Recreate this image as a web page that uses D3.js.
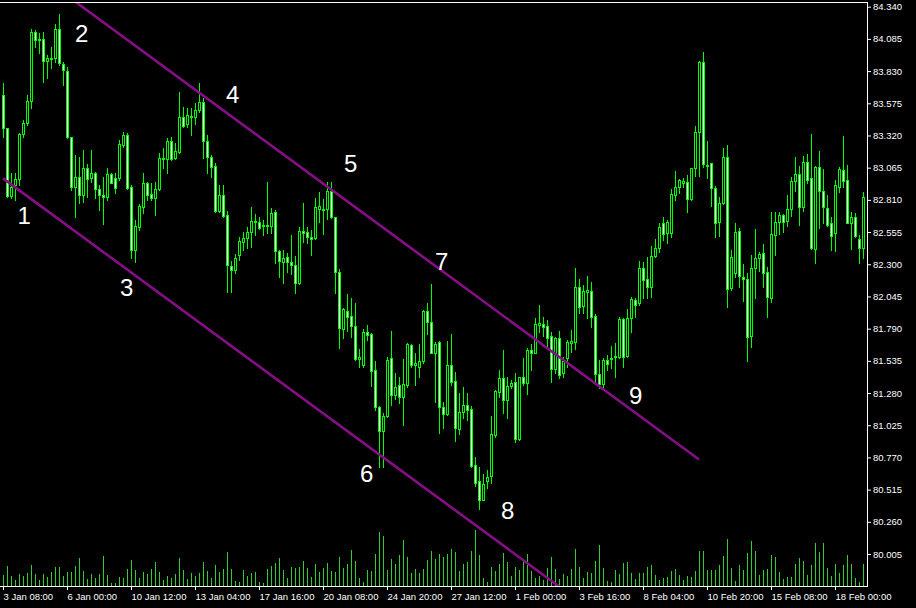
<!DOCTYPE html>
<html><head><meta charset="utf-8">
<script src="https://cdn.jsdelivr.net/npm/d3@7"></script>
<style>html,body{margin:0;padding:0;background:#000;overflow:hidden}</style>
</head><body><svg id="c" width="916" height="608"></svg>
<script>
// ---- data (USDJPY-like 4H candles) ----
const timeLabels = ["3 Jan 08:00","6 Jan 00:00","10 Jan 12:00","13 Jan 04:00","17 Jan 16:00","20 Jan 08:00","24 Jan 20:00","27 Jan 12:00","1 Feb 00:00","3 Feb 16:00","8 Feb 04:00","10 Feb 20:00","15 Feb 08:00","18 Feb 00:00"];
const timeLabelIndex = [0,16,32,48,64,80,96,112,128,144,160,176,192,208];
const priceTicks = [84.340,84.085,83.830,83.575,83.320,83.065,82.810,82.555,82.300,82.045,81.790,81.535,81.280,81.025,80.770,80.515,80.260,80.005];

const opens = [83.641,83.377,82.841,82.928,82.973,83.329,83.416,83.593,84.137,84.076,84.081,83.913,83.931,83.931,84.161,83.886,83.831,83.305,82.909,82.989,82.849,83.060,82.981,83.020,82.893,82.849,82.835,83.015,82.981,82.981,83.245,83.324,82.909,82.413,82.598,82.756,82.941,82.857,82.822,82.893,83.139,83.131,83.276,83.139,83.192,83.464,83.411,83.477,83.464,83.522,83.588,83.276,83.147,83.081,82.725,82.849,82.690,
82.287,82.255,82.374,82.479,82.511,82.553,82.643,82.638,82.603,82.609,82.603,82.712,82.408,82.321,82.355,82.321,82.295,82.149,82.564,82.559,82.519,82.506,82.735,82.741,82.735,82.881,82.672,82.242,81.785,81.933,81.893,81.814,81.550,81.503,81.761,81.746,81.463,81.167,80.983,81.099,81.555,81.265,81.344,
81.251,81.344,81.660,81.502,81.489,81.536,81.930,81.840,81.594,81.687,81.172,81.114,81.502,81.375,80.995,81.133,81.185,81.154,80.710,80.586,80.433,80.586,80.623,80.948,81.291,81.397,81.225,81.339,81.365,80.913,81.404,81.357,81.621,81.600,81.819,81.824,81.812,81.732,81.468,
81.713,81.436,81.555,81.679,81.687,82.117,81.972,82.083,82.088,81.890,81.431,81.352,81.542,81.547,81.563,81.568,81.864,81.573,81.872,82.017,81.990,82.268,82.180,82.117,82.368,82.426,82.624,82.550,82.550,82.848,82.909,82.946,82.954,82.814,83.060,83.345,83.899,83.086,83.099,82.901,
82.637,82.788,83.147,82.109,82.228,82.566,82.197,82.181,81.732,82.268,82.347,82.387,82.241,82.030,82.532,82.632,82.688,82.645,82.735,82.959,83.015,82.756,83.107,82.981,82.418,83.068,82.880,82.743,82.624,82.545,82.915,83.047,82.967,82.630,82.672,82.497,82.432];

const highs = [83.733,83.380,83.020,83.020,83.340,83.443,83.641,84.161,84.155,84.129,84.137,83.957,84.023,84.203,84.282,83.905,83.865,83.311,83.165,83.152,83.205,83.094,83.205,83.033,82.928,82.994,83.060,83.020,83.020,83.284,83.345,83.337,82.928,82.651,82.777,83.025,82.954,82.946,82.954,83.179,83.218,83.297,83.305,83.258,83.667,83.548,83.535,83.535,83.575,83.733,83.614,83.324,83.165,83.099,82.928,82.928,82.725,
82.329,82.382,82.514,82.559,82.593,82.751,82.699,82.677,82.651,82.955,82.743,82.730,82.413,82.413,82.392,82.532,82.366,82.593,82.783,82.598,82.572,82.823,82.875,82.815,82.955,82.952,82.677,82.260,81.951,82.065,82.031,81.996,81.627,81.785,81.819,81.753,81.537,81.178,81.120,81.563,81.775,81.437,81.410,
81.547,81.679,81.668,81.594,81.668,81.938,81.991,82.144,81.687,81.695,81.212,81.695,81.748,81.449,81.278,81.331,81.278,81.177,80.776,80.697,80.639,80.671,81.098,81.304,81.462,81.621,81.410,81.383,81.441,81.410,81.555,81.634,81.668,81.872,81.977,81.885,81.858,81.766,81.727,
81.774,81.568,81.700,81.779,82.268,82.180,82.136,82.207,82.157,81.906,81.542,81.555,81.581,81.652,81.674,81.885,81.872,81.943,82.043,82.030,82.328,82.320,82.355,82.444,82.497,82.629,82.677,82.650,82.893,83.038,82.972,82.980,83.007,83.060,83.395,83.912,83.978,83.279,83.104,82.920,
82.830,83.218,83.245,82.413,82.624,82.585,82.302,82.228,82.373,82.577,82.400,82.461,82.276,82.717,82.711,82.714,82.698,82.849,82.988,83.147,83.078,83.157,83.173,83.332,83.081,83.197,83.055,82.849,82.677,82.967,83.073,83.316,83.086,82.711,82.703,82.532,82.870];

const lows = [83.311,82.835,82.822,82.809,82.928,83.311,83.403,83.535,84.023,83.971,83.746,83.773,83.852,83.905,83.878,83.720,83.297,82.888,82.672,82.783,82.796,82.835,82.954,82.822,82.730,82.619,82.809,82.941,82.862,82.968,83.231,82.893,82.347,82.321,82.571,82.703,82.809,82.809,82.690,82.888,83.060,83.020,83.126,83.131,83.179,83.390,83.390,83.324,83.411,83.509,83.139,83.020,82.994,82.717,82.717,82.677,82.083,
82.083,82.234,82.334,82.413,82.427,82.440,82.532,82.577,82.532,82.551,82.545,82.308,82.197,82.149,82.242,82.223,82.070,82.144,82.479,82.472,82.374,82.498,82.638,82.540,82.656,82.664,82.075,81.635,81.714,81.775,81.727,81.542,81.484,81.484,81.701,81.336,81.146,80.697,80.697,81.088,81.186,81.231,81.199,
81.027,81.331,81.489,81.344,81.410,81.515,81.748,81.594,81.212,80.961,81.001,81.106,81.344,80.903,80.956,81.080,81.066,80.697,80.544,80.359,80.433,80.525,80.565,80.935,81.251,81.119,81.080,81.317,80.895,80.908,81.344,81.272,81.462,81.594,81.766,81.732,81.634,81.370,81.436,
81.396,81.410,81.489,81.608,81.626,81.911,81.911,81.872,81.806,81.370,81.317,81.317,81.462,81.476,81.404,81.555,81.489,81.568,81.766,81.885,81.977,82.030,82.030,82.038,82.360,82.400,82.492,82.471,82.513,82.809,82.862,82.914,82.716,82.809,83.000,83.000,83.073,82.980,82.764,82.513,
82.524,82.777,81.964,82.096,82.202,82.123,82.012,81.537,81.647,82.030,82.249,82.123,81.880,82.004,82.373,82.540,82.558,82.603,82.682,82.883,82.611,82.725,82.941,82.421,82.313,82.585,82.624,82.603,82.413,82.408,82.875,82.915,82.624,82.421,82.513,82.313,82.352];

const closes = [83.377,82.841,82.915,82.973,83.329,83.416,83.593,84.142,84.076,84.081,83.913,83.931,83.931,84.161,83.891,83.839,83.305,82.909,82.994,82.849,83.060,82.973,83.020,82.893,82.849,82.835,83.015,82.946,82.901,83.253,83.324,82.901,82.413,82.603,82.761,82.941,82.849,82.822,82.893,83.139,83.131,83.276,83.131,83.197,83.464,83.395,83.482,83.464,83.522,83.588,83.279,83.147,83.073,82.725,82.849,82.682,82.294,
82.255,82.347,82.485,82.511,82.553,82.643,82.638,82.590,82.611,82.609,82.704,82.408,82.326,82.347,82.321,82.295,82.149,82.564,82.551,82.519,82.498,82.751,82.762,82.735,82.881,82.672,82.237,81.793,81.943,81.885,81.814,81.550,81.563,81.761,81.740,81.458,81.167,80.983,81.099,81.542,81.265,81.331,81.251,
81.352,81.668,81.502,81.515,81.534,81.930,81.840,81.600,81.668,81.172,81.114,81.502,81.370,81.001,81.133,81.185,81.146,80.702,80.570,80.433,80.560,80.618,80.956,81.296,81.397,81.225,81.336,81.357,80.913,81.410,81.357,81.621,81.600,81.827,81.832,81.806,81.719,81.468,81.713,
81.423,81.536,81.682,81.692,82.117,81.964,82.091,82.096,81.885,81.428,81.352,81.542,81.510,81.560,81.573,81.864,81.568,81.872,82.022,81.977,82.268,82.175,82.117,82.368,82.426,82.592,82.540,82.632,82.856,82.914,82.967,82.957,82.814,83.060,83.345,83.899,83.091,83.081,82.901,82.629,
82.783,83.147,82.101,82.360,82.553,82.207,82.183,81.727,82.268,82.347,82.381,82.233,82.038,82.537,82.632,82.688,82.637,82.735,82.959,83.015,82.751,83.107,82.967,82.426,83.073,82.883,82.751,82.611,82.527,82.928,83.052,82.962,82.630,82.672,82.524,82.426,82.830];

const volumes = [330,600,300,180,360,300,390,630,360,180,
360,270,420,570,570,300,420,420,600,840,
450,210,360,240,360,900,330,90,90,270,
240,510,780,480,240,420,360,510,720,420,
180,300,240,360,840,480,210,390,300,390,
720,450,240,630,420,510,1020,510,150,120,
480,300,390,420,120,90,510,600,690,840,
480,240,570,540,570,750,540,270,660,420,
540,690,450,420,870,540,660,1080,750,240,
120,480,450,960,1620,1500,480,810,660,930,
1380,870,390,510,390,510,780,1050,810,960,
870,960,1110,1020,450,660,720,1050,1680,930,
240,120,570,450,660,990,720,300,570,480,
810,960,450,240,300,180,540,870,510,210,
360,300,510,1110,570,240,420,390,750,1230,
540,150,120,480,360,690,720,390,210,390,
390,570,630,330,180,240,270,450,510,330,
180,300,270,450,1050,1050,480,480,480,630,
900,1410,540,150,630,480,990,1350,1050,330,
480,510,930,870,420,210,270,270,660,840,
750,330,630,1290,1020,1290,540,300,660,390,
630,930,660,240,120,660];

// channel lines: [candle index, price]
const upperChannel = [[18, 84.381],[174, 80.754]];
const lowerChannel = [[0, 82.980],[140, 79.725]];

// wave annotations: label, candle index, price
const waveLabels = ["1","2","3","4","5","6","7","8","9"];
const waveIndex  = [5.3, 19.7, 30.9, 57.4, 86.9, 90.9, 109.7, 126.2, 158.2];
const wavePrice  = [82.690, 84.124, 82.112, 83.641, 83.098, 80.639, 82.318, 80.353, 81.264];

// ---- drawing ----
const W = 916, H = 608;
const plotRight = 867, plotTop = 2, plotBottom = 586;
const svg = d3.select("#c");
svg.append("rect").attr("width", W).attr("height", H).attr("fill", "#000");

const n = opens.length;
const x = d3.scaleLinear().domain([0, n - 1]).range([3, 3 + 4 * (n - 1)]);
const y = d3.scaleLinear().domain([80.005, 84.340]).range([554, 6.7]);
const vScale = d3.scaleLinear().domain([0, 1800]).range([0, 60]);

svg.append("clipPath").attr("id", "plot")
  .append("rect").attr("x", 0).attr("y", plotTop).attr("width", plotRight).attr("height", plotBottom - plotTop);

const g = svg.append("g").attr("clip-path", "url(#plot)");

const idx = d3.range(n);

// volumes
g.append("g").selectAll("line").data(idx).join("line")
  .attr("x1", i => x(i) + 0.5).attr("x2", i => x(i) + 0.5)
  .attr("y1", plotBottom).attr("y2", i => plotBottom - Math.round(vScale(volumes[i])))
  .attr("stroke", "#32cd32").attr("stroke-width", 1).attr("shape-rendering", "crispEdges");

// candles
const cg = g.append("g").attr("shape-rendering", "crispEdges");
cg.selectAll("line").data(idx).join("line")
  .attr("x1", i => x(i) + 0.5).attr("x2", i => x(i) + 0.5)
  .attr("y1", i => Math.round(y(highs[i]))).attr("y2", i => Math.round(y(lows[i])) + 1)
  .attr("stroke", "#00ff00").attr("stroke-width", 1);

cg.selectAll("rect").data(idx).join("rect")
  .attr("x", i => x(i) - 0.5)
  .attr("width", 2)
  .attr("y", i => Math.round(y(Math.max(opens[i], closes[i]))) + 0.5)
  .attr("height", i => Math.max(1, Math.round(y(Math.min(opens[i], closes[i]))) - Math.round(y(Math.max(opens[i], closes[i])))))
  .attr("fill", i => closes[i] >= opens[i] ? "#000000" : "#ffffff")
  .attr("stroke", "#00ff00").attr("stroke-width", 1);

// channel lines
const lineGen = d3.line().x(d => x(d[0])).y(d => y(d[1]));
[upperChannel, lowerChannel].forEach(pts => {
  g.append("path").attr("d", lineGen(pts))
    .attr("fill", "none").attr("stroke", "#860e86").attr("stroke-width", 2.6);
});

// wave labels
svg.append("g").selectAll("text").data(waveLabels).join("text")
  .attr("x", (d, i) => x(waveIndex[i]))
  .attr("y", (d, i) => y(wavePrice[i]))
  .attr("text-anchor", "middle").attr("dominant-baseline", "central")
  .attr("fill", "#ffffff").attr("font-family", "Liberation Sans, Arial, sans-serif").attr("font-size", 24)
  .text(d => d);

// frame
svg.append("path")
  .attr("d", `M0,${plotTop + 0.5}H${plotRight + 0.5}V${plotBottom + 0.5}H0`)
  .attr("fill", "none").attr("stroke", "#ffffff").attr("stroke-width", 1).attr("shape-rendering", "crispEdges");

// y axis
const yAxis = svg.append("g").attr("transform", `translate(${plotRight},0)`)
  .call(d3.axisRight(y).tickValues(priceTicks).tickSize(4).tickPadding(2).tickFormat(d3.format(".3f")));
yAxis.select(".domain").remove();
yAxis.selectAll("line").attr("stroke", "#fff");
yAxis.selectAll("text").attr("fill", "#fff").attr("font-family", "Liberation Sans, Arial, sans-serif").attr("font-size", 9.5);

// x axis
const xAxis = svg.append("g").attr("transform", `translate(0,${plotBottom})`)
  .call(d3.axisBottom(x).tickValues(timeLabelIndex).tickSize(4).tickPadding(3).tickFormat((d, i) => timeLabels[i]));
xAxis.select(".domain").remove();
xAxis.selectAll("line").attr("stroke", "#fff");
xAxis.selectAll("text").attr("fill", "#fff").attr("text-anchor", "start").attr("x", 0)
  .attr("font-family", "Liberation Sans, Arial, sans-serif").attr("font-size", 9.5);
</script>
</body></html>
